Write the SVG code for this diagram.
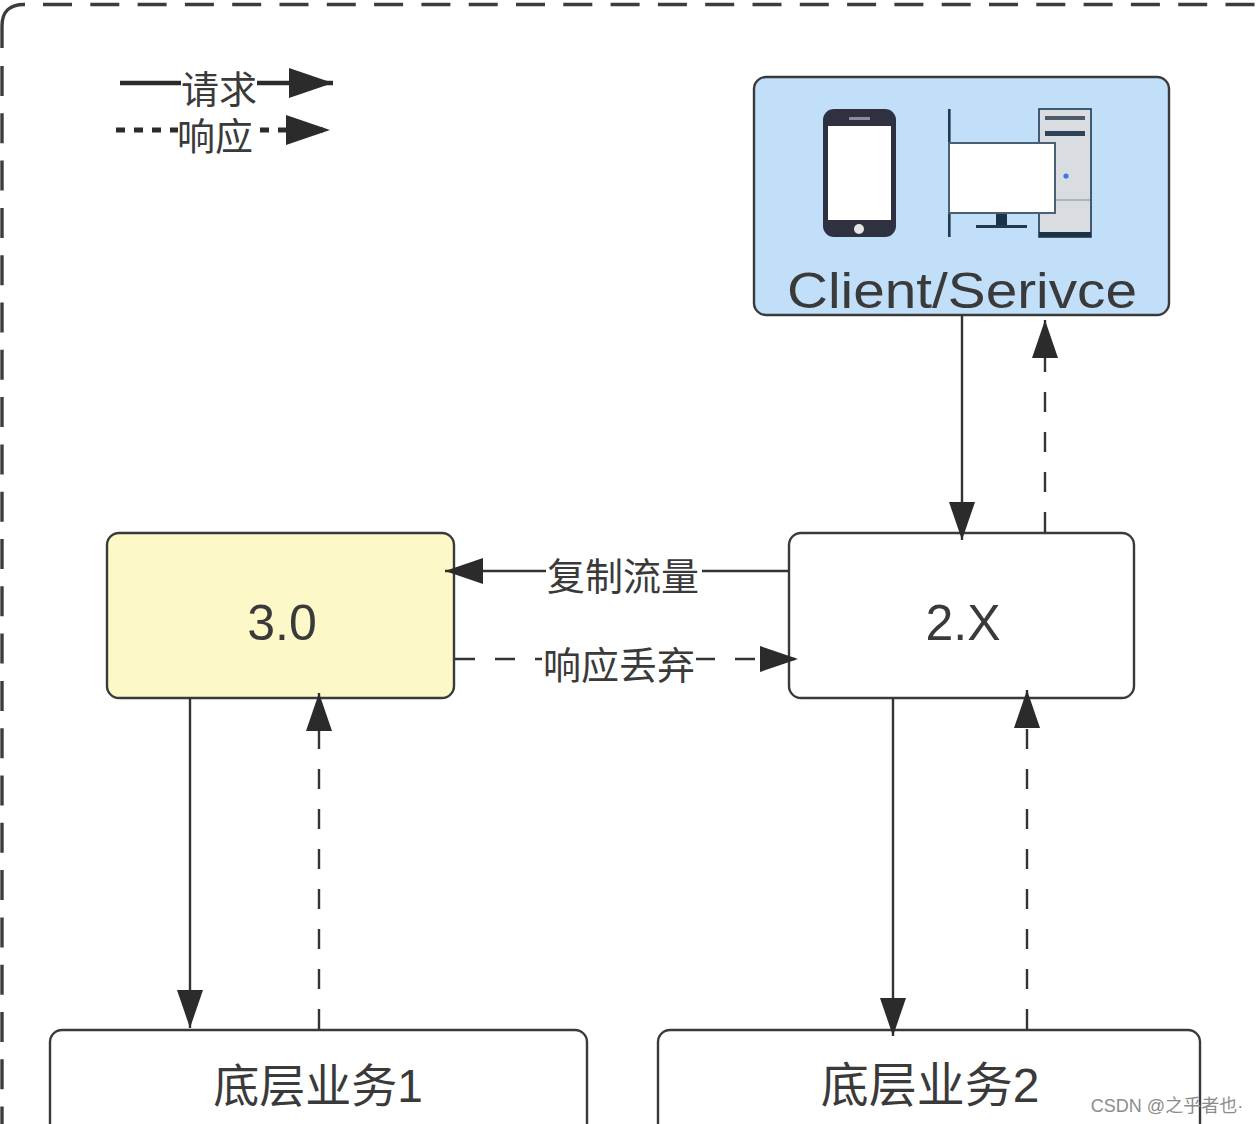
<svg xmlns="http://www.w3.org/2000/svg" width="1260" height="1124" viewBox="0 0 1260 1124">
<defs>
<marker id="arrow" markerUnits="userSpaceOnUse" markerWidth="40" markerHeight="28" refX="38" refY="13" orient="auto"><path d="M0 0L38 13L0 26Z" fill="#2b2b2b"/></marker>
<marker id="arrow-lg" markerUnits="userSpaceOnUse" markerWidth="46" markerHeight="32" refX="44" refY="15" orient="auto"><path d="M0 0L44 15L0 30Z" fill="#2b2b2b"/></marker>
</defs>
<style>
text{font-family:"Liberation Sans","Noto Sans CJK SC",sans-serif;fill:#3a3a3a;text-anchor:middle}
.box{stroke:#3a3a3a;stroke-width:2.4;fill:#fff}
.s{fill:none;stroke:#333;stroke-width:2.4}
.d{fill:none;stroke:#333;stroke-width:2.4;stroke-dasharray:20 20}
.f{fill:none;stroke:#3c3c3c;stroke-width:3.4}
.lbl{font-size:38px}
.sm{font-size:38px}
.big{font-size:50px}
</style>
<rect width="1260" height="1124" fill="#fff"/>
<g id="frame">
<path class="f" d="M2 48V26Q2 4 25 4.500"/>
<path class="f" stroke-dasharray="29 18.300" d="M43 4.500H1260"/>
<path class="f" stroke-dasharray="30 17.300" d="M2 66V1124"/>
</g>
<g id="client">
<rect x="754" y="77" width="415" height="238" rx="12" fill="#c2dff9" stroke="#3a3a3a" stroke-width="2.4"/>
<rect x="823" y="109" width="73" height="128" rx="11" fill="#2f3140"/>
<rect x="828" y="126" width="63" height="94" fill="#fff"/>
<rect x="849" y="117" width="21" height="3" fill="#8a8d98"/>
<circle cx="859" cy="229" r="5" fill="#e5e5e5"/>
<rect x="1039" y="109" width="52" height="128" fill="#d9dde2" stroke="#22394f" stroke-width="1.600"/>
<rect x="1045" y="116" width="40" height="4" fill="#4c5a69"/>
<rect x="1045" y="131" width="40" height="5" fill="#2f4257"/>
<rect x="1040" y="199" width="50" height="2" fill="#aeb3b9"/>
<rect x="1039" y="232" width="52" height="5" fill="#1f3347"/>
<circle cx="1066" cy="176" r="2.600" fill="#3a78e0"/>
<rect x="948" y="109" width="2.600" height="128" fill="#22394f"/>
<rect x="996" y="214" width="11" height="11" fill="#1b3347"/>
<rect x="976" y="225" width="51" height="3" fill="#22394f"/>
<rect x="949" y="143" width="106" height="70" fill="#fff" stroke="#4a6074" stroke-width="2"/>
<text class="big" x="962" y="308" textLength="350" lengthAdjust="spacingAndGlyphs">Client/Serivce</text>
</g>
<g id="node-3-0">
<rect x="107" y="533" width="347" height="165" rx="12" fill="#fdf8c8" stroke="#3a3a3a" stroke-width="2.400"/>
<text class="big" x="282" y="640">3.0</text>
</g>
<g id="node-2-x">
<rect class="box" x="789" y="533" width="345" height="165" rx="12"/>
<text class="big" x="963" y="640">2.X</text>
</g>
<g id="service-1">
<rect class="box" x="50" y="1030" width="537" height="110" rx="12"/>
<text x="318" y="1102" style="font-size:46px">底层业务1</text>
</g>
<g id="service-2">
<rect class="box" x="658" y="1030" width="542" height="110" rx="12"/>
<text x="930" y="1102" style="font-size:48px">底层业务2</text>
</g>
<g id="connectors">
<path class="s" d="M962 315V540" marker-end="url(#arrow)"/>
<path class="d" d="M1045 532V320" marker-end="url(#arrow)"/>
<path class="s" d="M789 571H445" marker-end="url(#arrow)"/>
<path class="d" d="M455 659H798" marker-end="url(#arrow)"/>
<path class="s" d="M190 698V1028" marker-end="url(#arrow)"/>
<path class="d" d="M319 1029V693" marker-end="url(#arrow)"/>
<path class="s" d="M893 698V1036" marker-end="url(#arrow)"/>
<path class="d" d="M1027 1029V690" marker-end="url(#arrow)"/>
</g>
<g id="legend">
<path d="M120 83H333" fill="none" stroke="#2b2b2b" stroke-width="4.500" marker-end="url(#arrow-lg)"/>
<path d="M116 130H330" fill="none" stroke="#2b2b2b" stroke-width="5" stroke-dasharray="9 9" marker-end="url(#arrow-lg)"/>
<rect x="181" y="66" width="76" height="44" fill="#fff"/>
<rect x="178" y="112" width="76" height="46" fill="#fff"/>
<text class="lbl" x="219" y="103">请求</text>
<text class="lbl" x="215" y="150">响应</text>
</g>
<g id="edge-labels">
<rect x="546" y="552" width="156" height="44" fill="#fff"/>
<rect x="542" y="642" width="154" height="44" fill="#fff"/>
<text class="sm" x="623" y="590">复制流量</text>
<text class="sm" x="619" y="679">响应丢弃</text>
</g>
<text id="watermark" x="1167" y="1112" style="font-size:18px;fill:#8c8c8c">CSDN @之乎者也·</text>
</svg>
